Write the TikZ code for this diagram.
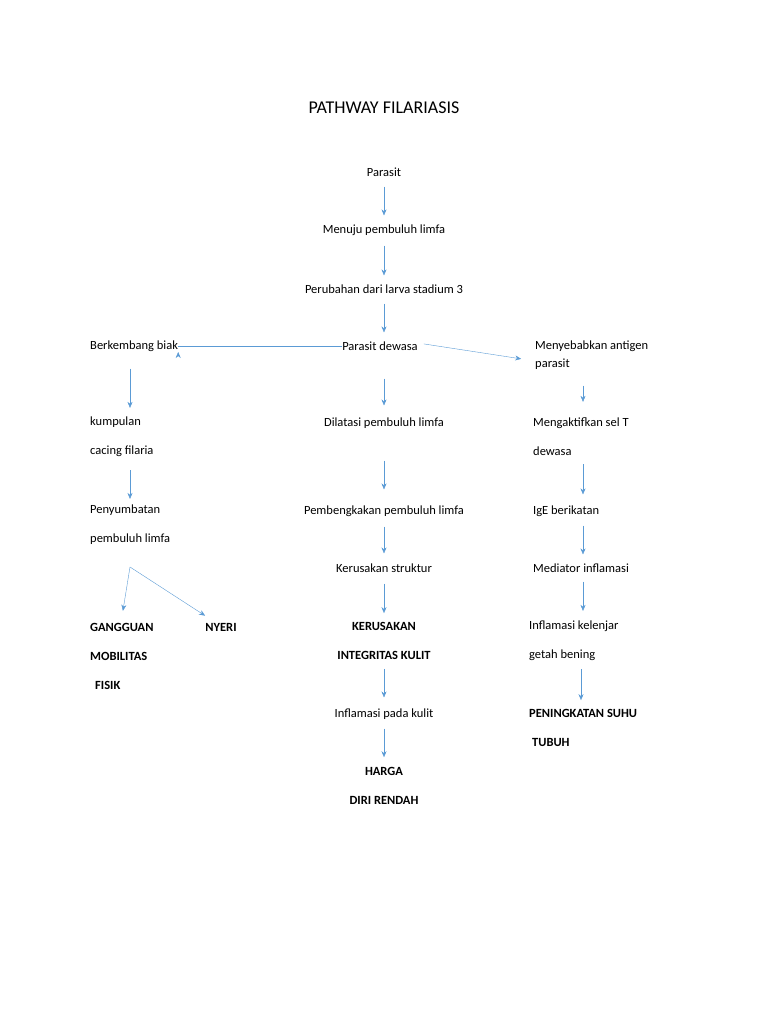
\documentclass[tikz,border=0pt]{standalone}
\usepackage{fontspec}
\setmainfont{Carlito}
\usetikzlibrary{arrows.meta}
\definecolor{arrowblue}{RGB}{91,155,213}

\begin{document}
\begin{tikzpicture}[x=1pt,y=-1pt,
		txt/.style={inner sep=0pt,font=\fontsize{12.5}{29}\selectfont},
		ltxt/.style={txt,anchor=west,align=left},
		btxt/.style={txt,font=\fontsize{12.5}{29}\selectfont\bfseries},
		arr/.style={draw=arrowblue,-{Stealth[length=6pt,width=5pt]},shorten <=10pt,shorten >=9pt}]
	\useasboundingbox (0,0) rectangle (768,1024);
	\node[inner sep=0pt,font=\fontsize{18}{22}\selectfont] (title) at (384,108) {PATHWAY FILARIASIS};

	% Middle column
	\node[txt] (parasit) at (384,172) {Parasit};
	\node[txt] (menuju) at (384,230) {Menuju pembuluh limfa};
	\node[txt] (larva) at (384,289) {Perubahan dari larva stadium 3};
	\node[txt] (dewasa) at (380,346) {Parasit dewasa};
	\node[txt] (dilatasi) at (384,423) {Dilatasi pembuluh limfa};
	\node[txt] (bengkak) at (384,511) {Pembengkakan pembuluh limfa};
	\node[txt] (struktur) at (384,568) {Kerusakan struktur};
	\node[btxt,align=center] (integ) at (384,641) {KERUSAKAN\\INTEGRITAS KULIT};
	\node[txt] (kulit) at (384,714) {Inflamasi pada kulit};
	\node[btxt,align=center] (harga) at (384,786) {HARGA\\DIRI RENDAH};

	% Left column
	\node[ltxt] (biak) at (90,346) {Berkembang biak};
	\node[ltxt] (kumpulan) at (90,437) {kumpulan\\cacing filaria};
	\node[ltxt] (sumbat) at (90,525) {Penyumbatan\\pembuluh limfa};
	\node[btxt,anchor=west,align=left] (mobil) at (90,656) {GANGGUAN\\MOBILITAS\\\hspace*{5pt}FISIK};
	\node[btxt] (nyeri) at (221,627) {NYERI};

	% Right column
	\node[txt,anchor=west,align=left,font=\fontsize{12.5}{18}\selectfont] (antigen) at (535,355) {Menyebabkan antigen\\parasit};
	\node[ltxt] (selT) at (533,437) {Mengaktifkan sel T\\dewasa};
	\node[ltxt] (ige) at (533,511) {IgE berikatan};
	\node[ltxt] (mediator) at (533,568) {Mediator inflamasi};
	\node[ltxt] (kelenjar) at (529,641) {Inflamasi kelenjar\\getah bening};
	\node[btxt,anchor=west,align=left] (suhu) at (529,728) {PENINGKATAN SUHU\\\hspace*{3pt}TUBUH};

	\coordinate (lx) at (130,0);
	\coordinate (rx) at (583,0);

	% Arrows in the middle
	\draw[arr] (parasit) -- (menuju);
	\draw[arr] (menuju) -- (larva);
	\draw[arr] (larva.south -| 384,0) -- (dewasa.north -| 384,0);
	\draw[arr,shorten <=28pt,shorten >=12pt] (dewasa.south -| 384,0) -- (dilatasi.north -| 384,0);
	\draw[arr,shorten <=32pt,shorten >=16pt] (dilatasi) -- (bengkak);
	\draw[arr,shorten <=10pt,shorten >=10pt] (bengkak) -- (struktur);
	\draw[arr,shorten <=11pt,shorten >=9pt] (struktur) -- (integ);
	\draw[arr,shorten <=9pt,shorten >=11pt] (integ) -- (kulit);
	\draw[arr,shorten <=9pt,shorten >=10pt] (kulit) -- (harga);
	\draw[arr,shorten <=6pt,shorten >=6pt] (dewasa.west) -- (biak.east |- dewasa.west) ++(0,0);
	\draw[arr,shorten <=6pt,shorten >=14pt] ([yshift=3pt]dewasa.east) -- ([yshift=-6pt]antigen.west);

	% Arrows on the left
	\draw[arr,shorten <=17pt] (biak.south -| lx) -- (kumpulan.north -| lx);
	\draw[arr,shorten <=13pt,shorten >=6pt] (kumpulan.south -| lx) -- (sumbat.north -| lx);
	\coordinate (split) at (130,567);
	\draw[arr,shorten <=0pt,shorten >=12pt] (split) -- (mobil.north -| 121,0);
	\draw[arr,shorten <=0pt,shorten >=13pt] (split) -- (nyeri.north -| 216,0);

	% Arrows on the right
	\draw[arr,shorten <=16pt,shorten >=16pt] (antigen.south -| rx) -- (selT.north -| rx);
	\draw[arr,shorten <=8pt,shorten >=11pt] (selT.south -| rx) -- (ige.north -| rx);
	\draw[arr,shorten <=9pt,shorten >=9pt] (ige.south -| rx) -- (mediator.north -| rx);
	\draw[arr,shorten <=9pt,shorten >=10pt] (mediator.south -| rx) -- (kelenjar.north -| rx);
	\draw[arr,shorten <=8pt,shorten >=9pt] (kelenjar.south -| 581,0) -- (suhu.north -| 581,0);
\end{tikzpicture}
\end{document}
